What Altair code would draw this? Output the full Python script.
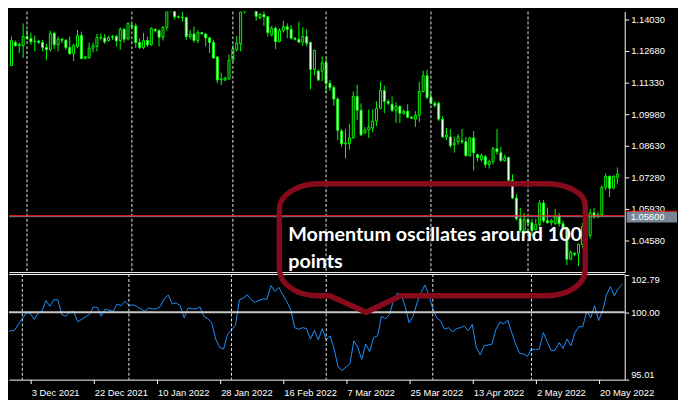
import json
import altair as alt
import pandas as pd

# ---------------- data (EURUSD D1, Sun-Fri bars) ----------------
opens = [
    1.12094, 1.12051, 1.13034, 1.12908, 1.12894, 1.13287, 1.13203, 1.13062, 1.13090, 1.13034,
    1.12824, 1.12725, 1.13427, 1.12936, 1.13175, 1.13133, 1.12824, 1.12557, 1.12866, 1.13329,
    1.12346, 1.12402, 1.12796, 1.12866, 1.13245, 1.13231, 1.13119, 1.13259, 1.13287, 1.13119,
    1.13596, 1.13189, 1.13764, 1.13736, 1.13034, 1.12824, 1.13119, 1.12936, 1.13596, 1.13540,
    1.13259, 1.13680, 1.14382, 1.14551, 1.14129, 1.14115, 1.14101, 1.13287, 1.13399, 1.13119,
    1.13455, 1.13399, 1.13231, 1.13034, 1.12417, 1.11434, 1.11434, 1.11490, 1.12276, 1.12725,
    1.12978, 1.14340, 1.14537, 1.14579, 1.14410, 1.14101, 1.14228, 1.14129, 1.13357, 1.13638,
    1.13076, 1.13540, 1.13708, 1.13596, 1.13217, 1.13175, 1.13048, 1.13287, 1.13034, 1.11883,
    1.11813, 1.11813, 1.12164, 1.11293, 1.11111, 1.10619, 1.09257, 1.08710, 1.08710, 1.08963,
    1.10732, 1.10142, 1.09173, 1.09300, 1.09384, 1.09679, 1.10226, 1.10984, 1.10521, 1.10395,
    1.10142, 1.10311, 1.10016, 1.10100, 1.09847, 1.09763, 1.09932, 1.10942, 1.11616, 1.10690,
    1.10437, 1.10437, 1.09763, 1.09005, 1.09005, 1.08668, 1.08794, 1.08836, 1.08794, 1.08205,
    1.08963, 1.08247, 1.08036, 1.08162, 1.07826, 1.07952, 1.08499, 1.08331, 1.07994, 1.08120,
    1.07152, 1.06393, 1.05509, 1.05003, 1.05467, 1.05341, 1.05045, 1.05256, 1.06183, 1.05425,
    1.05341, 1.05299, 1.05636, 1.05299, 1.05130, 1.03782, 1.04035, 1.04035, 1.04414, 1.05341,
    1.04793, 1.05762, 1.05593, 1.05678, 1.06857, 1.07320, 1.06815, 1.07278]
highs = [
    1.12276, 1.13287, 1.13119, 1.13034, 1.13849, 1.13568, 1.13455, 1.13329, 1.13147, 1.13147,
    1.12978, 1.13540, 1.13498, 1.13287, 1.13217, 1.13175, 1.13287, 1.12978, 1.13568, 1.13498,
    1.12473, 1.13034, 1.13034, 1.13399, 1.13427, 1.13399, 1.13315, 1.13357, 1.13357, 1.13680,
    1.13652, 1.13877, 1.13821, 1.13849, 1.13217, 1.13455, 1.13287, 1.13680, 1.13638, 1.13596,
    1.13736, 1.14523, 1.14691, 1.14691, 1.14186, 1.14340, 1.14129, 1.13568, 1.13708, 1.13568,
    1.13484, 1.13427, 1.13287, 1.13147, 1.12445, 1.11743, 1.11574, 1.12515, 1.12936, 1.13315,
    1.14523, 1.14691, 1.14607, 1.14621, 1.14523, 1.14298, 1.14691, 1.14157, 1.13736, 1.13708,
    1.13638, 1.13961, 1.13849, 1.13778, 1.13259, 1.13919, 1.13680, 1.13596, 1.13076, 1.12725,
    1.11883, 1.12445, 1.12332, 1.11434, 1.11209, 1.10690, 1.09341, 1.09341, 1.09552, 1.10942,
    1.11237, 1.10437, 1.09426, 1.10184, 1.10184, 1.10521, 1.11364, 1.11195, 1.10605, 1.10732,
    1.10479, 1.10353, 1.10184, 1.10395, 1.09889, 1.10100, 1.11364, 1.11827, 1.11869, 1.10900,
    1.10521, 1.10521, 1.09889, 1.09384, 1.09341, 1.09005, 1.09131, 1.09341, 1.09005, 1.09005,
    1.09257, 1.08289, 1.08289, 1.08247, 1.08036, 1.08584, 1.09341, 1.08584, 1.08247, 1.08162,
    1.07404, 1.06562, 1.05972, 1.05762, 1.05551, 1.05509, 1.05509, 1.06309, 1.06309, 1.05972,
    1.05509, 1.05930, 1.05762, 1.05425, 1.05172, 1.04161, 1.04077, 1.04456, 1.05341, 1.05636,
    1.05930, 1.05972, 1.05804, 1.06941, 1.07447, 1.07362, 1.07362, 1.07699]
lows = [
    1.12009, 1.12023, 1.12866, 1.12585, 1.12374, 1.13147, 1.12936, 1.12655, 1.12978, 1.12655,
    1.12276, 1.12655, 1.12753, 1.12655, 1.13006, 1.12725, 1.12515, 1.12234, 1.12796, 1.12332,
    1.12332, 1.12332, 1.12613, 1.12655, 1.13119, 1.12978, 1.13076, 1.13147, 1.12866, 1.12725,
    1.13034, 1.13119, 1.13638, 1.12796, 1.12753, 1.12753, 1.12838, 1.12894, 1.13455, 1.12866,
    1.13119, 1.13540, 1.14340, 1.14017, 1.14059, 1.13919, 1.13147, 1.13175, 1.13034, 1.13006,
    1.13357, 1.12866, 1.12585, 1.12332, 1.11293, 1.11209, 1.11392, 1.11434, 1.12234, 1.12655,
    1.12655, 1.14270, 1.14494, 1.14382, 1.13961, 1.14017, 1.13736, 1.13287, 1.13287, 1.12753,
    1.13034, 1.13455, 1.13217, 1.13175, 1.13119, 1.13034, 1.12894, 1.12866, 1.11041, 1.11630,
    1.11392, 1.11392, 1.10872, 1.10970, 1.10339, 1.08864, 1.08584, 1.08078, 1.08457, 1.08921,
    1.09721, 1.09047, 1.09131, 1.08963, 1.09215, 1.09468, 1.10184, 1.10016, 1.10353, 1.10058,
    1.09595, 1.09595, 1.09932, 1.09805, 1.09763, 1.09426, 1.09637, 1.10900, 1.10605, 1.10395,
    1.10268, 1.09679, 1.08963, 1.08878, 1.08541, 1.08331, 1.08668, 1.08710, 1.08162, 1.08162,
    1.07573, 1.07952, 1.07952, 1.07699, 1.07657, 1.07826, 1.08247, 1.07952, 1.07952, 1.07109,
    1.06351, 1.05425, 1.04919, 1.04793, 1.05256, 1.04793, 1.05003, 1.05130, 1.05341, 1.05299,
    1.05214, 1.05256, 1.05172, 1.05088, 1.03529, 1.03740, 1.03909, 1.03487, 1.04245, 1.04582,
    1.04666, 1.05509, 1.05551, 1.05593, 1.06730, 1.06435, 1.06772, 1.06975]
closes = [
    1.12051, 1.13119, 1.12894, 1.12950, 1.13287, 1.13203, 1.13062, 1.13090, 1.13034, 1.12824,
    1.12725, 1.13427, 1.12936, 1.13175, 1.13133, 1.12824, 1.12557, 1.12908, 1.13329, 1.12346,
    1.12417, 1.12796, 1.12894, 1.13245, 1.13231, 1.13062, 1.13245, 1.13287, 1.13104, 1.13596,
    1.13175, 1.13849, 1.13722, 1.13034, 1.12824, 1.13119, 1.12936, 1.13638, 1.13540, 1.13259,
    1.13680, 1.14382, 1.14551, 1.14129, 1.14115, 1.14101, 1.13287, 1.13399, 1.13119, 1.13455,
    1.13413, 1.13231, 1.13034, 1.12374, 1.11434, 1.11476, 1.11518, 1.12276, 1.12753, 1.13006,
    1.14340, 1.14523, 1.14565, 1.14410, 1.14157, 1.14228, 1.14129, 1.13455, 1.13638, 1.13076,
    1.13540, 1.13708, 1.13596, 1.13217, 1.13175, 1.13048, 1.13287, 1.13006, 1.11883, 1.12697,
    1.11434, 1.12164, 1.11293, 1.11111, 1.10619, 1.09286, 1.08710, 1.08752, 1.08963, 1.10732,
    1.10142, 1.09089, 1.09300, 1.09426, 1.09679, 1.10226, 1.10984, 1.10521, 1.10437, 1.10142,
    1.10311, 1.10016, 1.10100, 1.09847, 1.09805, 1.09932, 1.10942, 1.11616, 1.10690, 1.10437,
    1.10353, 1.09763, 1.09005, 1.09089, 1.08626, 1.08752, 1.09005, 1.08794, 1.08205, 1.08963,
    1.08331, 1.08120, 1.08205, 1.07826, 1.07952, 1.08499, 1.08373, 1.07994, 1.08120, 1.07152,
    1.06393, 1.05509, 1.05003, 1.05467, 1.05341, 1.05003, 1.05256, 1.06183, 1.05425, 1.05341,
    1.05425, 1.05593, 1.05299, 1.05130, 1.03782, 1.04077, 1.03993, 1.04414, 1.05172, 1.04709,
    1.05762, 1.05593, 1.05678, 1.06857, 1.07320, 1.06815, 1.07320, 1.07404]
momentum = [
    96.74, 98.57, 98.62, 98.66, 99.10, 99.52, 99.95, 99.93, 99.47, 99.95,
    100.08, 100.86, 100.44, 100.93, 100.93, 99.83, 99.71, 100.00, 100.08, 99.30,
    99.47, 99.66, 99.83, 100.39, 100.37, 99.71, 100.25, 100.15, 100.08, 100.61,
    100.49, 100.81, 100.51, 100.56, 100.44, 100.25, 100.08, 100.32, 100.25, 100.25,
    100.44, 101.03, 101.27, 100.61, 100.69, 100.49, 99.59, 100.32, 100.25, 100.25,
    100.39, 99.71, 99.52, 99.22, 98.01, 97.40, 97.28, 98.37, 98.69, 99.03,
    100.93, 101.05, 101.29, 100.93, 100.73, 100.88, 100.98, 100.98, 101.98, 101.54,
    101.85, 101.29, 100.81, 100.20, 98.86, 98.74, 98.86, 98.79, 98.01, 98.66,
    97.96, 98.79, 97.96, 98.25, 97.28, 95.94,
    95.69, 95.94, 96.18, 97.88, 97.40, 96.50, 97.64, 97.08, 98.13, 98.25,
    99.71, 99.52, 99.83, 100.81, 101.42, 101.29, 100.44, 99.22, 99.71, 100.69,
    101.42, 102.02, 101.29, 100.25, 99.59, 99.35, 98.74, 98.86, 98.54, 98.79,
    98.86, 98.98, 98.62, 99.10, 97.40, 96.84, 97.52, 97.57, 97.64, 98.74,
    99.27, 99.15, 99.42, 98.49, 97.64, 96.96, 96.91, 96.74, 97.28, 97.23,
    97.28, 98.49, 97.81, 97.15, 97.20, 97.76, 97.32, 98.01, 97.52, 98.49,
    98.93, 98.93, 100.08, 99.59, 100.49, 99.39, 100.08, 101.29, 101.90, 101.22,
    101.78, 102.07]

tick_bars = [7, 23, 39, 55, 71, 87, 103, 119, 135, 151]
tick_labels = ["3 Dec 2021", "22 Dec 2021", "10 Jan 2022", "28 Jan 2022", "16 Feb 2022",
               "7 Mar 2022", "25 Mar 2022", "13 Apr 2022", "2 May 2022", "20 May 2022"]
month_start_bars = [5, 32, 58, 82, 109, 134]
price_ticks = [1.04580, 1.05930, 1.07280, 1.08630, 1.09980, 1.11330, 1.12680, 1.14030]
mom_ticks = [95.01, 100.00, 102.79]
mom_level = 100.0
hline_price = 1.05600
note_lines = ["Momentum oscillates around 100", "points"]

# ---------------- frames ----------------
n = len(closes)
df = pd.DataFrame({"bar": list(range(n)), "open": opens, "high": highs,
                   "low": lows, "close": closes, "mom": momentum})
grid_df = pd.DataFrame({"bar": month_start_bars})
hline_df = pd.DataFrame({"price": [hline_price], "label": [f"{hline_price:.5f}"]})
level_df = pd.DataFrame({"level": [mom_level]})
one = pd.DataFrame({"k": [0]})

W, H1, H2 = 624, 264, 107
FONT = "Liberation Sans"
FS = 9.5
GREEN = "#00ff00"
xs = alt.Scale(domain=[1.625, 157.625], nice=False, zero=False)
ys = alt.Scale(domain=[1.03234, 1.14354], nice=False, zero=False)
ys2 = alt.Scale(domain=[95.01, 102.83], nice=False, zero=False)

x_main_axis = alt.Axis(labels=False, ticks=False, grid=False, domain=True,
                       domainColor="white", title=None)
label_expr = f"{json.dumps(tick_labels)}[indexof({json.dumps(tick_bars)}, datum.value)]"
x_sub_axis = alt.Axis(values=tick_bars, labelExpr=label_expr, grid=False, title=None,
                      domainColor="white", tickColor="white", tickSize=4,
                      labelColor="white", labelFont=FONT, labelFontSize=FS,
                      labelAlign="left", labelOffset=1, labelPadding=4,
                      labelOverlap=False, labelFlush=False)
y_main_axis = alt.Axis(orient="right", values=price_ticks, format=".5f", title=None,
                       grid=False, domainColor="white", tickColor="white", tickSize=4,
                       labelColor="white", labelFont=FONT, labelFontSize=FS, labelPadding=2,
                       labelOverlap=False, labelFlush=False)
y_sub_axis = alt.Axis(orient="right", values=mom_ticks, format=".2f", title=None,
                      grid=False, domainColor="white", tickColor="white", tickSize=4,
                      labelColor="white", labelFont=FONT, labelFontSize=FS, labelPadding=2,
                      labelOverlap=False, labelFlush=False,
                      labelBaseline={"condition": [{"test": "datum.value > 102", "value": "top"},
                                                   {"test": "datum.value < 96", "value": "bottom"}],
                                     "value": "middle"})

def xm():
    return alt.X("bar:Q", scale=xs, axis=x_main_axis)

def xsub():
    return alt.X("bar:Q", scale=xs, axis=x_sub_axis)

def yp():
    return alt.Y("price:Q", scale=ys, axis=y_main_axis)

base = alt.Chart(df)
hbase = alt.Chart(hline_df)

wicks = base.mark_rule(color=GREEN, strokeWidth=1, clip=True).encode(
    x=xm(), y=alt.Y("low:Q", scale=ys, axis=y_main_axis), y2="high:Q")
bodies = base.mark_bar(size=2, stroke=GREEN, strokeWidth=1, clip=True).encode(
    x=xm(), y=alt.Y("open:Q", scale=ys, axis=y_main_axis), y2="close:Q",
    fill=alt.condition("datum.open > datum.close", alt.value("#ffffff"), alt.value("#000000")))
grid_main = alt.Chart(grid_df).mark_rule(color="#e8e8e8", strokeDash=[3, 2], strokeWidth=1).encode(
    x=xm())
bid_line = hbase.mark_rule(color="#778899", strokeWidth=1).encode(
    y=yp(), x=alt.value(0), x2=alt.value(W))
ask_line = hbase.mark_rule(color="#ff2020", strokeWidth=1, yOffset=-1).encode(
    y=yp(), x=alt.value(0), x2=alt.value(W))
tag_box = hbase.mark_rect(color="#778899", yOffset=-5, y2Offset=6).encode(
    y=yp(), y2="price:Q", x=alt.value(626), x2=alt.value(677))
tag_top = hbase.mark_rule(color="#ff2020", strokeWidth=1, yOffset=-5.5).encode(
    y=yp(), x=alt.value(W), x2=alt.value(677))
tag_text = hbase.mark_text(color="white", font=FONT, fontSize=FS, align="left",
                           baseline="middle", yOffset=0.5).encode(
    y=yp(), x=alt.value(630), text="label:N")

main = alt.layer(wicks, bodies, grid_main, bid_line, ask_line, tag_box, tag_top, tag_text).properties(
    width=W, height=H1)

# ---------------- momentum panel ----------------
mom_line = base.mark_line(color="#1e90ff", strokeWidth=1, clip=True).encode(
    x=xsub(), y=alt.Y("mom:Q", scale=ys2, axis=y_sub_axis))
grid_sub = alt.Chart(grid_df).mark_rule(color="#e8e8e8", strokeDash=[3, 2], strokeWidth=1).encode(
    x=xsub())
level = alt.Chart(level_df).mark_rule(color="#c8c8c8", strokeWidth=2).encode(
    y=alt.Y("level:Q", scale=ys2, axis=y_sub_axis), x=alt.value(0), x2=alt.value(W))
top_border = alt.Chart(one).mark_rule(color="white", strokeWidth=1).encode(
    y=alt.value(0.5), x=alt.value(0), x2=alt.value(W))

bubble_path = ("M274,-66 C274,-80 292,-91.5 314,-91.5 L545,-91.5 "
               "C566.5,-91.5 584,-81.6 584,-69.5 L584,-4 C584,10.4 566.5,22 545,22 "
               "L397,22 L362,38.7 L325,22 L312,22 C291,22 274,9.5 274,-6 Z")
bubble = alt.Chart(one).mark_point(shape=bubble_path, size=4, filled=False, opacity=1,
                                   stroke="#870a1d", strokeWidth=5.5,
                                   strokeJoin="round").encode(
    x=alt.value(0), y=alt.value(0))
note = alt.Chart(one).mark_text(text=note_lines, color="white", font="Lato", fontWeight="bold",
                                fontSize=20, align="left", baseline="alphabetic",
                                lineHeight=27).encode(
    x=alt.value(283), y=alt.value(-33))

sub = alt.layer(mom_line, grid_sub, level, top_border, bubble, note).properties(width=W, height=H2)

chart = alt.vconcat(main, sub, spacing=2, bounds="flush").properties(
    background="#000000", padding=0
).configure_view(strokeWidth=0).configure_axis(labelOverlap=False)

chart.save("out.html", embed_options={"renderer": "svg", "actions": False})
